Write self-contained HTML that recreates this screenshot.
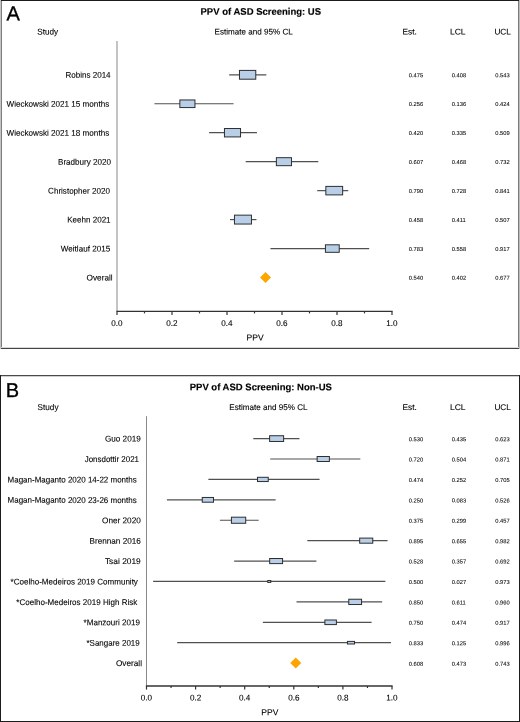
<!DOCTYPE html>
<html lang="en"><head><meta charset="utf-8"><title>PPV of ASD Screening</title>
<style>html,body{margin:0;padding:0;background:#fff}svg{display:block}text{font-family:"Liberation Sans",Arial,Helvetica,sans-serif;fill:#000;text-rendering:geometricPrecision}.l{font-size:8.3px;stroke:#000;stroke-width:.1px}.n{font-size:5.75px;stroke:#000;stroke-width:.06px}.t{font-size:9.5px;font-weight:bold;stroke:#000;stroke-width:.15px}.p{font-size:20px;stroke:#000;stroke-width:.35px}.x{font-size:8.5px;stroke:#000;stroke-width:.1px}.w{stroke:#505050;stroke-width:1.2;fill:none}.b{fill:#b9cfe7;stroke:#2e2e2e;stroke-width:1}</style></head><body>
<svg width="520" height="722" viewBox="0 0 520 722">
<rect x="0" y="0" width="520" height="722" fill="#fff"/>
<text class="p" x="6.6" y="20.3" transform="rotate(0.05 6.6 20.3)">A</text>
<text class="t" x="260.8" y="14.7" text-anchor="middle" transform="rotate(0.05 260.8 14.7)">PPV of ASD Screening: US</text>
<text class="l" x="37.3" y="34.5" textLength="20.9" lengthAdjust="spacingAndGlyphs" transform="rotate(0.05 37.3 34.5)">Study</text>
<text class="l" x="214.55" y="34.4" textLength="78.3" lengthAdjust="spacingAndGlyphs" transform="rotate(0.05 214.55 34.4)">Estimate and 95% CL</text>
<text class="l" x="402.4" y="34.5" textLength="14.4" lengthAdjust="spacingAndGlyphs" transform="rotate(0.05 402.4 34.5)">Est.</text>
<text class="l" x="449.9" y="34.5" textLength="15.7" lengthAdjust="spacingAndGlyphs" transform="rotate(0.05 449.9 34.5)">LCL</text>
<text class="l" x="494.4" y="34.5" textLength="16.5" lengthAdjust="spacingAndGlyphs" transform="rotate(0.05 494.4 34.5)">UCL</text>
<line x1="117" y1="41" x2="117" y2="311.4" stroke="#888" stroke-width="1"/>
<line x1="116.4" y1="311.4" x2="392.6" y2="311.4" stroke="#333" stroke-width="1.3"/>
<line x1="117" y1="311.4" x2="117" y2="315" stroke="#333" stroke-width="1.2"/>
<text class="l" x="111.35" y="326" textLength="11.3" lengthAdjust="spacingAndGlyphs" transform="rotate(0.05 111.35 326)">0.0</text>
<line x1="144.5" y1="311.4" x2="144.5" y2="313.4" stroke="#333" stroke-width="1.2"/>
<line x1="172" y1="311.4" x2="172" y2="315" stroke="#333" stroke-width="1.2"/>
<text class="l" x="166.35" y="326" textLength="11.3" lengthAdjust="spacingAndGlyphs" transform="rotate(0.05 166.35 326)">0.2</text>
<line x1="199.5" y1="311.4" x2="199.5" y2="313.4" stroke="#333" stroke-width="1.2"/>
<line x1="227" y1="311.4" x2="227" y2="315" stroke="#333" stroke-width="1.2"/>
<text class="l" x="221.35" y="326" textLength="11.3" lengthAdjust="spacingAndGlyphs" transform="rotate(0.05 221.35 326)">0.4</text>
<line x1="254.5" y1="311.4" x2="254.5" y2="313.4" stroke="#333" stroke-width="1.2"/>
<line x1="282" y1="311.4" x2="282" y2="315" stroke="#333" stroke-width="1.2"/>
<text class="l" x="276.35" y="326" textLength="11.3" lengthAdjust="spacingAndGlyphs" transform="rotate(0.05 276.35 326)">0.6</text>
<line x1="309.5" y1="311.4" x2="309.5" y2="313.4" stroke="#333" stroke-width="1.2"/>
<line x1="337" y1="311.4" x2="337" y2="315" stroke="#333" stroke-width="1.2"/>
<text class="l" x="331.35" y="326" textLength="11.3" lengthAdjust="spacingAndGlyphs" transform="rotate(0.05 331.35 326)">0.8</text>
<line x1="364.5" y1="311.4" x2="364.5" y2="313.4" stroke="#333" stroke-width="1.2"/>
<line x1="392" y1="311.4" x2="392" y2="315" stroke="#333" stroke-width="1.2"/>
<text class="l" x="386.35" y="326" textLength="11.3" lengthAdjust="spacingAndGlyphs" transform="rotate(0.05 386.35 326)">1.0</text>
<text class="x" x="255.1" y="340.6" text-anchor="middle" transform="rotate(0.05 255.1 340.6)">PPV</text>
<text class="l" x="65.4" y="77.8" textLength="45.2" lengthAdjust="spacingAndGlyphs" transform="rotate(0.05 65.4 77.8)">Robins 2014</text>
<text class="n" x="408.7" y="77.15" transform="rotate(0.05 408.7 77.15)">0.475</text>
<text class="n" x="451.7" y="77.15" transform="rotate(0.05 451.7 77.15)">0.408</text>
<text class="n" x="495.2" y="77.15" transform="rotate(0.05 495.2 77.15)">0.543</text>
<line class="w" x1="229.2" y1="74.8" x2="266.33" y2="74.8"/>
<rect class="b" x="239.47" y="70.4" width="16.3" height="8.8"/>
<text class="l" x="6.5" y="106.76" textLength="102.7" lengthAdjust="spacingAndGlyphs" transform="rotate(0.05 6.5 106.76)">Wieckowski 2021 15 months</text>
<text class="n" x="408.7" y="106.11" transform="rotate(0.05 408.7 106.11)">0.256</text>
<text class="n" x="451.7" y="106.11" transform="rotate(0.05 451.7 106.11)">0.136</text>
<text class="n" x="495.2" y="106.11" transform="rotate(0.05 495.2 106.11)">0.424</text>
<line class="w" x1="154.4" y1="103.76" x2="233.6" y2="103.76"/>
<rect class="b" x="179.85" y="99.96" width="15.1" height="7.6"/>
<text class="l" x="6.5" y="135.72" textLength="102.7" lengthAdjust="spacingAndGlyphs" transform="rotate(0.05 6.5 135.72)">Wieckowski 2021 18 months</text>
<text class="n" x="408.7" y="135.07" transform="rotate(0.05 408.7 135.07)">0.420</text>
<text class="n" x="451.7" y="135.07" transform="rotate(0.05 451.7 135.07)">0.335</text>
<text class="n" x="495.2" y="135.07" transform="rotate(0.05 495.2 135.07)">0.509</text>
<line class="w" x1="209.12" y1="132.72" x2="256.98" y2="132.72"/>
<rect class="b" x="224.45" y="128.52" width="16.1" height="8.4"/>
<text class="l" x="58" y="164.68" textLength="53.1" lengthAdjust="spacingAndGlyphs" transform="rotate(0.05 58 164.68)">Bradbury 2020</text>
<text class="n" x="408.7" y="164.03" transform="rotate(0.05 408.7 164.03)">0.607</text>
<text class="n" x="451.7" y="164.03" transform="rotate(0.05 451.7 164.03)">0.468</text>
<text class="n" x="495.2" y="164.03" transform="rotate(0.05 495.2 164.03)">0.732</text>
<line class="w" x1="245.7" y1="161.68" x2="318.3" y2="161.68"/>
<rect class="b" x="276.37" y="157.68" width="15.1" height="8"/>
<text class="l" x="48.1" y="193.64" textLength="61.8" lengthAdjust="spacingAndGlyphs" transform="rotate(0.05 48.1 193.64)">Christopher 2020</text>
<text class="n" x="408.7" y="192.99" transform="rotate(0.05 408.7 192.99)">0.790</text>
<text class="n" x="451.7" y="192.99" transform="rotate(0.05 451.7 192.99)">0.728</text>
<text class="n" x="495.2" y="192.99" transform="rotate(0.05 495.2 192.99)">0.841</text>
<line class="w" x1="317.2" y1="190.64" x2="348.27" y2="190.64"/>
<rect class="b" x="325.85" y="186.39" width="16.8" height="8.5"/>
<text class="l" x="67.2" y="222.6" textLength="43.4" lengthAdjust="spacingAndGlyphs" transform="rotate(0.05 67.2 222.6)">Keehn 2021</text>
<text class="n" x="408.7" y="221.95" transform="rotate(0.05 408.7 221.95)">0.458</text>
<text class="n" x="451.7" y="221.95" transform="rotate(0.05 451.7 221.95)">0.411</text>
<text class="n" x="495.2" y="221.95" transform="rotate(0.05 495.2 221.95)">0.507</text>
<line class="w" x1="230.02" y1="219.6" x2="256.43" y2="219.6"/>
<rect class="b" x="234.45" y="215.15" width="17" height="8.9"/>
<text class="l" x="60.8" y="251.56" textLength="49.4" lengthAdjust="spacingAndGlyphs" transform="rotate(0.05 60.8 251.56)">Weitlauf 2015</text>
<text class="n" x="408.7" y="250.91" transform="rotate(0.05 408.7 250.91)">0.783</text>
<text class="n" x="451.7" y="250.91" transform="rotate(0.05 451.7 250.91)">0.558</text>
<text class="n" x="495.2" y="250.91" transform="rotate(0.05 495.2 250.91)">0.917</text>
<line class="w" x1="270.45" y1="248.56" x2="369.18" y2="248.56"/>
<rect class="b" x="325.43" y="244.81" width="13.8" height="7.5"/>
<text class="l" x="86.6" y="280.52" textLength="26.1" lengthAdjust="spacingAndGlyphs" transform="rotate(0.05 86.6 280.52)">Overall</text>
<text class="n" x="408.7" y="279.87" transform="rotate(0.05 408.7 279.87)">0.540</text>
<text class="n" x="451.7" y="279.87" transform="rotate(0.05 451.7 279.87)">0.402</text>
<text class="n" x="495.2" y="279.87" transform="rotate(0.05 495.2 279.87)">0.677</text>
<path d="M260 277.52 L265.5 272.02 L271 277.52 L265.5 283.02Z" fill="#ffa500"/>
<text class="p" x="5.8" y="397.1" transform="rotate(0.05 5.8 397.1)">B</text>
<text class="t" x="260.8" y="390.3" text-anchor="middle" transform="rotate(0.05 260.8 390.3)">PPV of ASD Screening: Non-US</text>
<text class="l" x="37.6" y="410.1" textLength="20.9" lengthAdjust="spacingAndGlyphs" transform="rotate(0.05 37.6 410.1)">Study</text>
<text class="l" x="229.3" y="410" textLength="78.3" lengthAdjust="spacingAndGlyphs" transform="rotate(0.05 229.3 410)">Estimate and 95% CL</text>
<text class="l" x="402.4" y="410.1" textLength="14.4" lengthAdjust="spacingAndGlyphs" transform="rotate(0.05 402.4 410.1)">Est.</text>
<text class="l" x="449.9" y="410.1" textLength="15.7" lengthAdjust="spacingAndGlyphs" transform="rotate(0.05 449.9 410.1)">LCL</text>
<text class="l" x="494.4" y="410.1" textLength="16.5" lengthAdjust="spacingAndGlyphs" transform="rotate(0.05 494.4 410.1)">UCL</text>
<line x1="146.5" y1="416.2" x2="146.5" y2="686" stroke="#888" stroke-width="1"/>
<line x1="145.9" y1="686" x2="392.6" y2="686" stroke="#333" stroke-width="1.3"/>
<line x1="146.5" y1="686" x2="146.5" y2="689.6" stroke="#333" stroke-width="1.2"/>
<text class="l" x="140.85" y="700.6" textLength="11.3" lengthAdjust="spacingAndGlyphs" transform="rotate(0.05 140.85 700.6)">0.0</text>
<line x1="171.05" y1="686" x2="171.05" y2="688" stroke="#333" stroke-width="1.2"/>
<line x1="195.6" y1="686" x2="195.6" y2="689.6" stroke="#333" stroke-width="1.2"/>
<text class="l" x="189.95" y="700.6" textLength="11.3" lengthAdjust="spacingAndGlyphs" transform="rotate(0.05 189.95 700.6)">0.2</text>
<line x1="220.15" y1="686" x2="220.15" y2="688" stroke="#333" stroke-width="1.2"/>
<line x1="244.7" y1="686" x2="244.7" y2="689.6" stroke="#333" stroke-width="1.2"/>
<text class="l" x="239.05" y="700.6" textLength="11.3" lengthAdjust="spacingAndGlyphs" transform="rotate(0.05 239.05 700.6)">0.4</text>
<line x1="269.25" y1="686" x2="269.25" y2="688" stroke="#333" stroke-width="1.2"/>
<line x1="293.8" y1="686" x2="293.8" y2="689.6" stroke="#333" stroke-width="1.2"/>
<text class="l" x="288.15" y="700.6" textLength="11.3" lengthAdjust="spacingAndGlyphs" transform="rotate(0.05 288.15 700.6)">0.6</text>
<line x1="318.35" y1="686" x2="318.35" y2="688" stroke="#333" stroke-width="1.2"/>
<line x1="342.9" y1="686" x2="342.9" y2="689.6" stroke="#333" stroke-width="1.2"/>
<text class="l" x="337.25" y="700.6" textLength="11.3" lengthAdjust="spacingAndGlyphs" transform="rotate(0.05 337.25 700.6)">0.8</text>
<line x1="367.45" y1="686" x2="367.45" y2="688" stroke="#333" stroke-width="1.2"/>
<line x1="392" y1="686" x2="392" y2="689.6" stroke="#333" stroke-width="1.2"/>
<text class="l" x="386.35" y="700.6" textLength="11.3" lengthAdjust="spacingAndGlyphs" transform="rotate(0.05 386.35 700.6)">1.0</text>
<text class="x" x="269.85" y="715.2" text-anchor="middle" transform="rotate(0.05 269.85 715.2)">PPV</text>
<text class="l" x="104.9" y="441.6" textLength="35.9" lengthAdjust="spacingAndGlyphs" transform="rotate(0.05 104.9 441.6)">Guo 2019</text>
<text class="n" x="408.7" y="441.15" transform="rotate(0.05 408.7 441.15)">0.530</text>
<text class="n" x="451.7" y="441.15" transform="rotate(0.05 451.7 441.15)">0.435</text>
<text class="n" x="495.2" y="441.15" transform="rotate(0.05 495.2 441.15)">0.623</text>
<line class="w" x1="253.29" y1="438.6" x2="299.45" y2="438.6"/>
<rect class="b" x="269.62" y="435.73" width="14" height="5.75"/>
<text class="l" x="84.7" y="462.01" textLength="54.3" lengthAdjust="spacingAndGlyphs" transform="rotate(0.05 84.7 462.01)">Jonsdottir 2021</text>
<text class="n" x="408.7" y="461.56" transform="rotate(0.05 408.7 461.56)">0.720</text>
<text class="n" x="451.7" y="461.56" transform="rotate(0.05 451.7 461.56)">0.504</text>
<text class="n" x="495.2" y="461.56" transform="rotate(0.05 495.2 461.56)">0.871</text>
<line class="w" x1="270.23" y1="459.01" x2="360.33" y2="459.01"/>
<rect class="b" x="317.13" y="456.51" width="12.25" height="5"/>
<text class="l" x="7.6" y="482.42" textLength="129.1" lengthAdjust="spacingAndGlyphs" transform="rotate(0.05 7.6 482.42)">Magan-Maganto 2020 14-22 months</text>
<text class="n" x="408.7" y="481.97" transform="rotate(0.05 408.7 481.97)">0.474</text>
<text class="n" x="451.7" y="481.97" transform="rotate(0.05 451.7 481.97)">0.252</text>
<text class="n" x="495.2" y="481.97" transform="rotate(0.05 495.2 481.97)">0.705</text>
<line class="w" x1="208.37" y1="479.42" x2="319.58" y2="479.42"/>
<rect class="b" x="257.49" y="477.3" width="10.75" height="4.25"/>
<text class="l" x="7.6" y="502.83" textLength="129.1" lengthAdjust="spacingAndGlyphs" transform="rotate(0.05 7.6 502.83)">Magan-Maganto 2020 23-26 months</text>
<text class="n" x="408.7" y="502.38" transform="rotate(0.05 408.7 502.38)">0.250</text>
<text class="n" x="451.7" y="502.38" transform="rotate(0.05 451.7 502.38)">0.083</text>
<text class="n" x="495.2" y="502.38" transform="rotate(0.05 495.2 502.38)">0.526</text>
<line class="w" x1="166.88" y1="499.83" x2="275.63" y2="499.83"/>
<rect class="b" x="202.25" y="497.46" width="11.25" height="4.75"/>
<text class="l" x="102" y="523.24" textLength="38.8" lengthAdjust="spacingAndGlyphs" transform="rotate(0.05 102 523.24)">Oner 2020</text>
<text class="n" x="408.7" y="522.79" transform="rotate(0.05 408.7 522.79)">0.375</text>
<text class="n" x="451.7" y="522.79" transform="rotate(0.05 451.7 522.79)">0.299</text>
<text class="n" x="495.2" y="522.79" transform="rotate(0.05 495.2 522.79)">0.457</text>
<line class="w" x1="219.9" y1="520.24" x2="258.69" y2="520.24"/>
<rect class="b" x="231.41" y="517.19" width="14.3" height="6.1"/>
<text class="l" x="89.6" y="543.65" textLength="51.2" lengthAdjust="spacingAndGlyphs" transform="rotate(0.05 89.6 543.65)">Brennan 2016</text>
<text class="n" x="408.7" y="543.2" transform="rotate(0.05 408.7 543.2)">0.895</text>
<text class="n" x="451.7" y="543.2" transform="rotate(0.05 451.7 543.2)">0.655</text>
<text class="n" x="495.2" y="543.2" transform="rotate(0.05 495.2 543.2)">0.982</text>
<line class="w" x1="307.3" y1="540.65" x2="387.58" y2="540.65"/>
<rect class="b" x="359.67" y="538.1" width="13.1" height="5.1"/>
<text class="l" x="104.9" y="564.06" textLength="35.9" lengthAdjust="spacingAndGlyphs" transform="rotate(0.05 104.9 564.06)">Tsai 2019</text>
<text class="n" x="408.7" y="563.61" transform="rotate(0.05 408.7 563.61)">0.528</text>
<text class="n" x="451.7" y="563.61" transform="rotate(0.05 451.7 563.61)">0.357</text>
<text class="n" x="495.2" y="563.61" transform="rotate(0.05 495.2 563.61)">0.692</text>
<line class="w" x1="234.14" y1="561.06" x2="316.39" y2="561.06"/>
<rect class="b" x="269.67" y="558.51" width="12.9" height="5.1"/>
<text class="l" x="10.6" y="584.47" textLength="127.3" lengthAdjust="spacingAndGlyphs" transform="rotate(0.05 10.6 584.47)">*Coelho-Medeiros 2019 Community</text>
<text class="n" x="408.7" y="584.02" transform="rotate(0.05 408.7 584.02)">0.500</text>
<text class="n" x="451.7" y="584.02" transform="rotate(0.05 451.7 584.02)">0.027</text>
<text class="n" x="495.2" y="584.02" transform="rotate(0.05 495.2 584.02)">0.973</text>
<line class="w" x1="153.13" y1="581.47" x2="385.37" y2="581.47"/>
<rect class="b" x="267.75" y="580.52" width="3" height="1.9"/>
<text class="l" x="16.3" y="604.88" textLength="121" lengthAdjust="spacingAndGlyphs" transform="rotate(0.05 16.3 604.88)">*Coelho-Medeiros 2019 High Risk</text>
<text class="n" x="408.7" y="604.43" transform="rotate(0.05 408.7 604.43)">0.850</text>
<text class="n" x="451.7" y="604.43" transform="rotate(0.05 451.7 604.43)">0.611</text>
<text class="n" x="495.2" y="604.43" transform="rotate(0.05 495.2 604.43)">0.960</text>
<line class="w" x1="296.5" y1="601.88" x2="382.18" y2="601.88"/>
<rect class="b" x="348.77" y="599.23" width="12.8" height="5.3"/>
<text class="l" x="83.6" y="625.29" textLength="56.3" lengthAdjust="spacingAndGlyphs" transform="rotate(0.05 83.6 625.29)">*Manzouri 2019</text>
<text class="n" x="408.7" y="624.84" transform="rotate(0.05 408.7 624.84)">0.750</text>
<text class="n" x="451.7" y="624.84" transform="rotate(0.05 451.7 624.84)">0.474</text>
<text class="n" x="495.2" y="624.84" transform="rotate(0.05 495.2 624.84)">0.917</text>
<line class="w" x1="262.87" y1="622.29" x2="371.62" y2="622.29"/>
<rect class="b" x="324.88" y="619.99" width="11.5" height="4.6"/>
<text class="l" x="86.5" y="645.7" textLength="53.2" lengthAdjust="spacingAndGlyphs" transform="rotate(0.05 86.5 645.7)">*Sangare 2019</text>
<text class="n" x="408.7" y="645.25" transform="rotate(0.05 408.7 645.25)">0.833</text>
<text class="n" x="451.7" y="645.25" transform="rotate(0.05 451.7 645.25)">0.125</text>
<text class="n" x="495.2" y="645.25" transform="rotate(0.05 495.2 645.25)">0.996</text>
<line class="w" x1="177.19" y1="642.7" x2="391.02" y2="642.7"/>
<rect class="b" x="347.45" y="641.4" width="7.1" height="2.6"/>
<text class="l" x="115.9" y="666.11" textLength="26.1" lengthAdjust="spacingAndGlyphs" transform="rotate(0.05 115.9 666.11)">Overall</text>
<text class="n" x="408.7" y="665.66" transform="rotate(0.05 408.7 665.66)">0.608</text>
<text class="n" x="451.7" y="665.66" transform="rotate(0.05 451.7 665.66)">0.473</text>
<text class="n" x="495.2" y="665.66" transform="rotate(0.05 495.2 665.66)">0.743</text>
<path d="M290.26 663.11 L295.76 657.61 L301.26 663.11 L295.76 668.61Z" fill="#ffa500"/>
<rect x="0" y="0" width="1" height="349" fill="#c4c4c4"/>
<rect x="1" y="0" width="1" height="349" fill="#7e7e7e"/>
<rect x="518" y="0" width="1" height="349" fill="#7a7a7a"/>
<rect x="519" y="0" width="1" height="349" fill="#bdbdbd"/>
<rect x="1" y="0" width="518" height="1" fill="#1c1c1c"/>
<rect x="1" y="347" width="518" height="1" fill="#d8d8d8"/>
<rect x="1" y="348" width="518" height="1" fill="#444"/>
<rect x="0" y="375" width="520" height="1" fill="#4a4a4a"/>
<rect x="0" y="376" width="520" height="1" fill="#d0d0d0"/>
<rect x="0" y="375" width="1" height="347" fill="#1c1c1c"/>
<rect x="519" y="375" width="1" height="347" fill="#1c1c1c"/>
<rect x="0" y="721" width="520" height="1" fill="#1c1c1c"/>
</svg></body></html>
